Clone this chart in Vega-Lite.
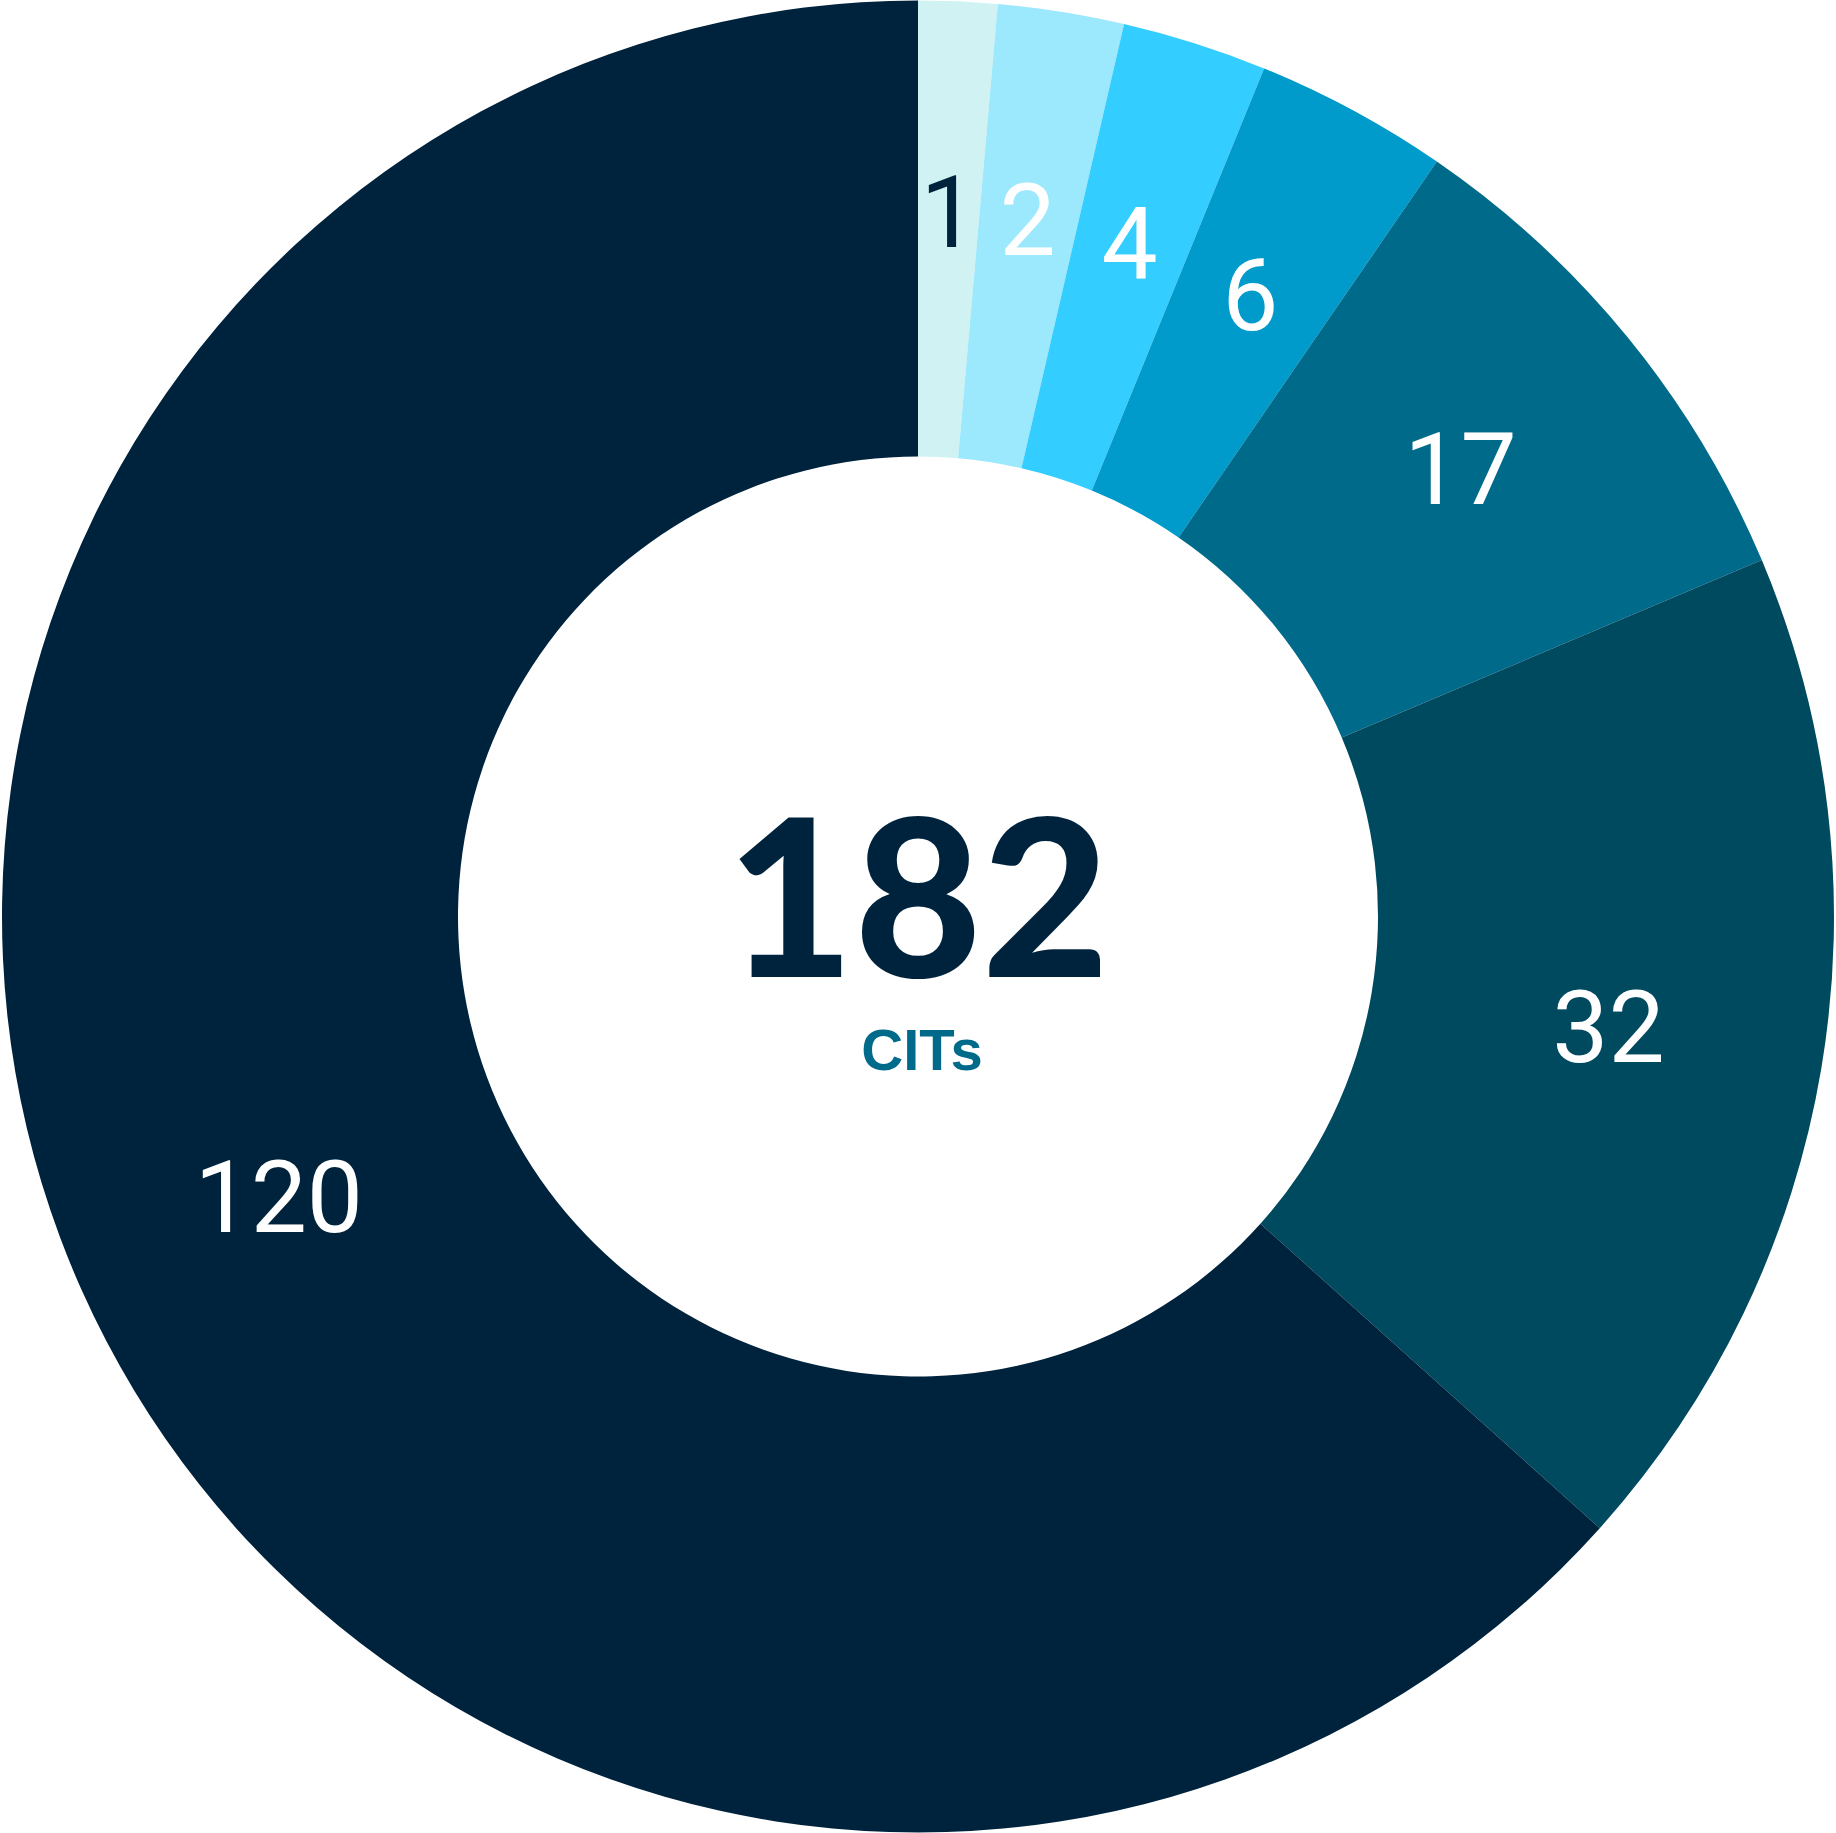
{
  "$schema": "https://vega.github.io/schema/vega-lite/v6.json",
  "width": 1836,
  "height": 1833,
  "autosize": {"type": "fit", "contains": "padding"},
  "padding": 0,
  "background": "white",
  "config": {"view": {"stroke": null}},
  "data": {
    "values": [
      {"idx": 1, "group": "a", "value": 1, "share": 5.0},
      {"idx": 2, "group": "b", "value": 2, "share": 8.0},
      {"idx": 3, "group": "c", "value": 4, "share": 9.2},
      {"idx": 4, "group": "d", "value": 6, "share": 12.3},
      {"idx": 5, "group": "e", "value": 17, "share": 32.6},
      {"idx": 6, "group": "f", "value": 32, "share": 64.8},
      {"idx": 7, "group": "g", "value": 120, "share": 228.1}
    ]
  },
  "layer": [
    {
      "mark": {"type": "arc", "outerRadius": 916, "innerRadius": 460},
      "encoding": {
        "theta": {"field": "share", "type": "quantitative", "stack": true},
        "order": {"field": "idx", "type": "quantitative"},
        "color": {
          "field": "group",
          "type": "nominal",
          "scale": {
            "domain": ["a", "b", "c", "d", "e", "f", "g"],
            "range": ["#d0f2f2", "#9ce8fc", "#33ceff", "#009acb", "#006a8a", "#004a60", "#00233d"]
          },
          "legend": null
        }
      }
    },
    {
      "mark": {
        "type": "text",
        "radius": 700,
        "font": "Roboto",
        "fontSize": 100,
        "baseline": "middle",
        "align": "center"
      },
      "encoding": {
        "theta": {"field": "share", "type": "quantitative", "stack": true},
        "order": {"field": "idx", "type": "quantitative"},
        "text": {"field": "value", "type": "quantitative"},
        "color": {
          "condition": {"test": "datum.value == 1", "value": "#00233d"},
          "value": "#ffffff"
        }
      }
    },
    {
      "transform": [{"aggregate": [{"op": "sum", "field": "value", "as": "total"}]}],
      "mark": {
        "type": "text",
        "font": "Lato",
        "fontWeight": 900,
        "fontSize": 220,
        "baseline": "alphabetic",
        "align": "center",
        "dy": 60,
        "color": "#00233d"
      },
      "encoding": {
        "text": {"field": "total", "type": "quantitative"}
      }
    },
    {
      "transform": [{"aggregate": [{"op": "count", "as": "n"}]}],
      "mark": {
        "type": "text",
        "text": "CITs",
        "font": "Liberation Sans",
        "fontWeight": "bold",
        "fontSize": 58,
        "baseline": "alphabetic",
        "align": "center",
        "dx": 4,
        "dy": 153,
        "color": "#006a8a"
      },
      "encoding": {}
    }
  ]
}
